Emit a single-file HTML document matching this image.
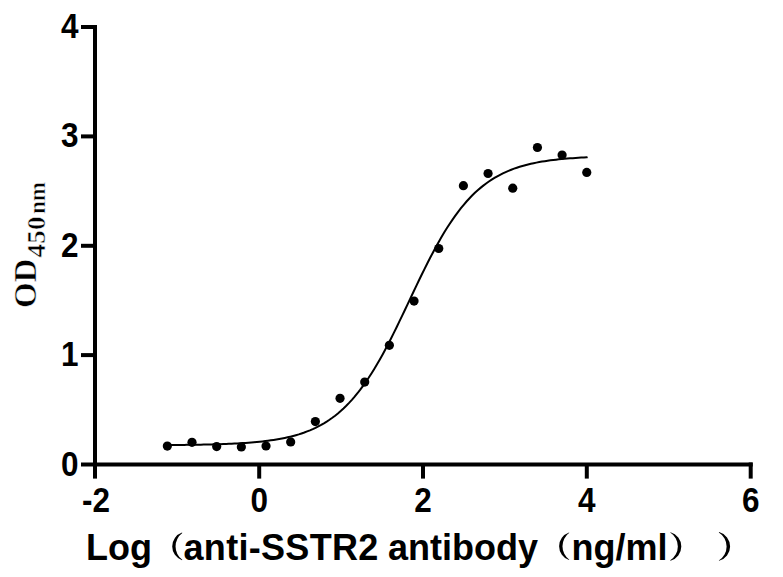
<!DOCTYPE html>
<html><head><meta charset="utf-8"><style>
html,body{margin:0;padding:0;background:#fff;width:783px;height:577px;overflow:hidden}
svg{display:block}
.t{font-family:"Liberation Sans",sans-serif;font-weight:bold;fill:#000}
.s{font-family:"Liberation Serif",serif;font-weight:bold;fill:#000;stroke:#fff;stroke-width:0.5px}
</style></head><body>
<svg width="783" height="577" viewBox="0 0 783 577">
<g stroke="#000" stroke-width="4" fill="none" stroke-linecap="butt">
<path d="M95,25 V466.5"/>
<path d="M81,27 H97"/><path d="M81,136.4 H95"/><path d="M81,245.8 H95"/><path d="M81,355.1 H95"/><path d="M81,464.5 H95"/>
<path d="M93,464.5 H752.7"/>
<path d="M95,464.5 V478.6"/><path d="M259.2,464.5 V478.6"/><path d="M423,464.5 V478.6"/><path d="M586.8,464.5 V478.6"/><path d="M750.7,462.5 V478.6"/>
</g>
<g class="t" font-size="35" text-anchor="end"><text transform="translate(78.5,38) scale(0.9,1)" x="0" y="0">4</text><text transform="translate(78.5,147.4) scale(0.9,1)" x="0" y="0">3</text><text transform="translate(78.5,256.8) scale(0.9,1)" x="0" y="0">2</text><text transform="translate(78.5,366.1) scale(0.9,1)" x="0" y="0">1</text><text transform="translate(78.5,475.5) scale(0.9,1)" x="0" y="0">0</text></g>
<g class="t" font-size="35" text-anchor="middle"><text transform="translate(96,512) scale(0.9,1)" x="0" y="0">-2</text><text transform="translate(259.2,512) scale(0.9,1)" x="0" y="0">0</text><text transform="translate(423,512) scale(0.9,1)" x="0" y="0">2</text><text transform="translate(586.8,512) scale(0.9,1)" x="0" y="0">4</text><text transform="translate(750.7,512) scale(0.9,1)" x="0" y="0">6</text></g>
<path d="M167.33,445.06 L170.13,445.04 L172.92,445.02 L175.72,444.99 L178.51,444.96 L181.31,444.94 L184.11,444.90 L186.90,444.87 L189.70,444.83 L192.49,444.79 L195.29,444.75 L198.09,444.70 L200.88,444.65 L203.68,444.60 L206.48,444.54 L209.27,444.47 L212.07,444.40 L214.86,444.33 L217.66,444.24 L220.46,444.15 L223.25,444.06 L226.05,443.95 L228.85,443.83 L231.64,443.71 L234.44,443.58 L237.23,443.43 L240.03,443.27 L242.83,443.10 L245.62,442.91 L248.42,442.71 L251.22,442.49 L254.01,442.26 L256.81,442.00 L259.60,441.72 L262.40,441.42 L265.20,441.09 L267.99,440.74 L270.79,440.36 L273.58,439.94 L276.38,439.50 L279.18,439.01 L281.97,438.49 L284.77,437.92 L287.57,437.31 L290.36,436.65 L293.16,435.94 L295.95,435.17 L298.75,434.34 L301.55,433.44 L304.34,432.48 L307.14,431.43 L309.94,430.31 L312.73,429.11 L315.53,427.81 L318.32,426.42 L321.12,424.92 L323.92,423.32 L326.71,421.60 L329.51,419.76 L332.31,417.79 L335.10,415.68 L337.90,413.43 L340.69,411.04 L343.49,408.49 L346.29,405.78 L349.08,402.91 L351.88,399.86 L354.67,396.64 L357.47,393.24 L360.27,389.65 L363.06,385.88 L365.86,381.93 L368.66,377.79 L371.45,373.46 L374.25,368.95 L377.04,364.27 L379.84,359.41 L382.64,354.39 L385.43,349.21 L388.23,343.89 L391.03,338.44 L393.82,332.87 L396.62,327.19 L399.41,321.43 L402.21,315.60 L405.01,309.73 L407.80,303.82 L410.60,297.90 L413.40,291.99 L416.19,286.10 L418.99,280.27 L421.78,274.50 L424.58,268.82 L427.38,263.23 L430.17,257.77 L432.97,252.43 L435.76,247.23 L438.56,242.19 L441.36,237.32 L444.15,232.61 L446.95,228.08 L449.75,223.74 L452.54,219.57 L455.34,215.60 L458.13,211.80 L460.93,208.20 L463.73,204.78 L466.52,201.53 L469.32,198.47 L472.12,195.57 L474.91,192.85 L477.71,190.28 L480.50,187.87 L483.30,185.60 L486.10,183.48 L488.89,181.50 L491.69,179.64 L494.49,177.91 L497.28,176.29 L500.08,174.78 L502.87,173.38 L505.67,172.07 L508.47,170.85 L511.26,169.72 L514.06,168.67 L516.85,167.70 L519.65,166.79 L522.45,165.96 L525.24,165.18 L528.04,164.46 L530.84,163.79 L533.63,163.18 L536.43,162.61 L539.22,162.08 L542.02,161.59 L544.82,161.14 L547.61,160.72 L550.41,160.33 L553.21,159.98 L556.00,159.65 L558.80,159.35 L561.59,159.06 L564.39,158.81 L567.19,158.57 L569.98,158.35 L572.78,158.14 L575.58,157.95 L578.37,157.78 L581.17,157.62 L583.96,157.47 L586.76,157.34" fill="none" stroke="#000" stroke-width="2" stroke-linecap="round"/>
<g fill="#000"><circle cx="167.33" cy="446.1" r="4.6"/><circle cx="192.00" cy="442.3" r="4.6"/><circle cx="216.67" cy="446.6" r="4.6"/><circle cx="241.35" cy="447.0" r="4.6"/><circle cx="266.02" cy="446.0" r="4.6"/><circle cx="290.69" cy="441.9" r="4.6"/><circle cx="315.36" cy="421.6" r="4.6"/><circle cx="340.04" cy="398.3" r="4.6"/><circle cx="364.71" cy="382.1" r="4.6"/><circle cx="389.38" cy="345.3" r="4.6"/><circle cx="414.05" cy="301.1" r="4.6"/><circle cx="438.73" cy="248.5" r="4.6"/><circle cx="463.40" cy="185.7" r="4.6"/><circle cx="488.07" cy="173.5" r="4.6"/><circle cx="512.74" cy="188.2" r="4.6"/><circle cx="537.42" cy="147.5" r="4.6"/><circle cx="562.09" cy="155.0" r="4.6"/><circle cx="586.76" cy="172.4" r="4.6"/></g>
<g class="t" font-size="36">
<text x="86" y="559.6">Log</text>
<text x="183.5" y="559.6" textLength="194.8" lengthAdjust="spacing">anti-SSTR2</text>
<text x="388" y="559.6">antibody</text>
<text x="571.5" y="559.6">ng/ml</text>
</g>
<g fill="#000"><path d="M182,532.6 A14.62,14.62 0 0 0 182,560.2 L182.3,559.8000000000001 A16.69,16.69 0 0 1 182.3,533.0 Z"/><path d="M569,532.4 A14.64,14.64 0 0 0 569,560.1 L569.3,559.7 A16.66,16.66 0 0 1 569.3,532.8 Z"/><path d="M670.5,532.2 A14.80,14.80 0 0 1 670.5,560.7 L670.2,560.3000000000001 A16.38,16.38 0 0 0 670.2,532.6 Z"/><path d="M719.1,532.1 A14.86,14.86 0 0 1 719.1,560.8000000000001 L718.8000000000001,560.4000000000001 A16.36,16.36 0 0 0 718.8000000000001,532.5 Z"/></g>
<text class="s" font-size="31" text-anchor="middle" transform="translate(36,295.2) rotate(-90) scale(1.06,1)" x="0" y="0">O</text><text class="s" font-size="31" text-anchor="middle" transform="translate(36,270.5) rotate(-90) scale(1.06,1)" x="0" y="0">D</text><text class="s" font-size="24.5" text-anchor="middle" transform="translate(44.6,250.85) rotate(-90) scale(1.1,1)" x="0" y="0">4</text><text class="s" font-size="24.5" text-anchor="middle" transform="translate(44.6,237) rotate(-90) scale(1.1,1)" x="0" y="0">5</text><text class="s" font-size="24.5" text-anchor="middle" transform="translate(44.6,223.2) rotate(-90) scale(1.1,1)" x="0" y="0">0</text><text class="s" font-size="22.6" text-anchor="middle" transform="translate(44.6,207.5) rotate(-90) scale(1.0,1)" x="0" y="0">n</text><text class="s" font-size="22.6" text-anchor="middle" transform="translate(44.6,191.65) rotate(-90) scale(1.0,1)" x="0" y="0">m</text>
</svg>
</body></html>
